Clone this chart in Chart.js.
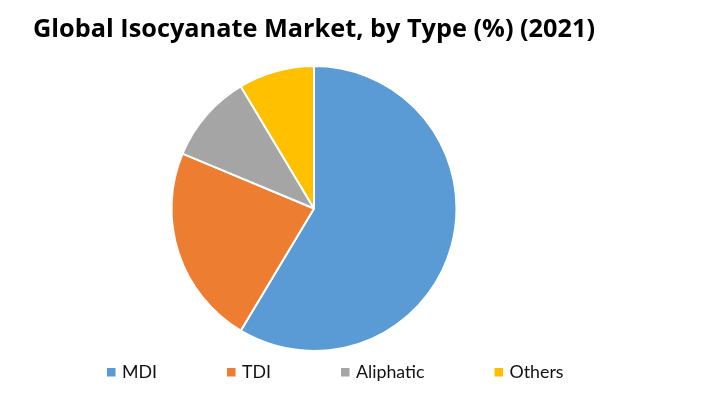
<!DOCTYPE html>
<html>
<head>
<meta charset="utf-8">
<script src="https://cdn.jsdelivr.net/npm/chart.js@4/dist/chart.umd.min.js"></script>
<style>
  html, body { margin: 0; padding: 0; background: #fff; }
  #wrap { width: 726px; height: 407px; }
</style>
</head>
<body>
<div id="wrap"><canvas id="pie" width="726" height="407"></canvas></div>
<script>
const titleText = "Global Isocyanate Market, by Type (%) (2021)";
const categories = ["MDI", "TDI", "Aliphatic", "Others"];
const shares = [58.6, 22.7, 10.1, 8.6];
const colors = ["#5B9BD5", "#ED7D31", "#A5A5A5", "#FFC000"];

// title + legend drawn by hand so they can sit where the original has them
const decorations = {
  id: "decorations",
  afterDraw(chart) {
    const ctx = chart.ctx;
    ctx.save();
    ctx.fillStyle = "#000";
    ctx.textBaseline = "alphabetic";
    ctx.textAlign = "left";
    // fit the title to the width it has in the original (33 -> 594)
    ctx.font = "bold 24px 'Open Sans', sans-serif";
    const w = ctx.measureText(titleText).width;
    const size = Math.min(26, 24 * 561 / w);
    ctx.font = "bold " + size.toFixed(1) + "px 'Open Sans', sans-serif";
    ctx.fillText(titleText, 33, 37);

    ctx.font = "17.8px Lato, 'Open Sans', sans-serif";
    let x = 107;
    const box = 8.5;
    const gap = 70;
    chart.data.labels.forEach((label, i) => {
      ctx.fillStyle = colors[i];
      ctx.fillRect(x, 368, box, box);
      ctx.fillStyle = "#111";
      const tx = x + 15;
      ctx.fillText(label, tx, 378);
      x = tx + ctx.measureText(label).width + gap;
    });
    ctx.restore();
  },
};

new Chart(document.getElementById("pie"), {
  type: "pie",
  data: {
    labels: categories,
    datasets: [
      {
        data: shares,
        backgroundColor: colors,
        borderColor: "#ffffff",
        borderWidth: 2,
      },
    ],
  },
  options: {
    responsive: false,
    animation: false,
    layout: {
      padding: { left: 170.5, right: 268.5, top: 65, bottom: 55 },
    },
    plugins: {
      legend: { display: false },
      title: { display: false },
      tooltip: { enabled: false },
    },
  },
  plugins: [decorations],
});
</script>
</body>
</html>
